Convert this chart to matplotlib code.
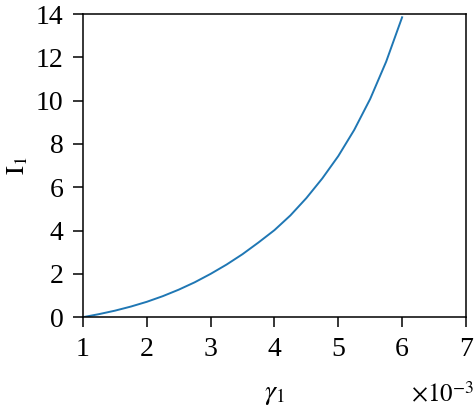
import numpy as np
import matplotlib
matplotlib.use("Agg")
import matplotlib.pyplot as plt

plt.rcParams['font.family'] = 'serif'
plt.rcParams['font.serif'] = ['Liberation Serif', 'DejaVu Serif']
plt.rcParams['mathtext.fontset'] = 'stix'

# values (gamma_1 in units of 1e-3)
gamma1 = [1.0, 1.25, 1.5, 1.75, 2.0, 2.25, 2.5, 2.75, 3.0, 3.25, 3.5,
          3.75, 4.0, 4.25, 4.5, 4.75, 5.0, 5.25, 5.5, 5.75, 6.0]
I1 = [0.0, 0.14, 0.30, 0.49, 0.71, 0.97, 1.27, 1.61, 2.00, 2.43, 2.91,
      3.45, 4.02, 4.70, 5.50, 6.41, 7.44, 8.65, 10.08, 11.80, 13.85]
xticks = [1, 2, 3, 4, 5, 6, 7]
yticks = [0, 2, 4, 6, 8, 10, 12, 14]

fig = plt.figure(figsize=(4.74, 4.13), dpi=100)
ax = fig.add_axes([0.175, 0.232, 0.808, 0.734])

ax.plot(gamma1, I1, color='#1f77b4', lw=1.4, solid_joinstyle='round')

ax.set_xlim(1, 7)
ax.set_ylim(0, 14)
ax.set_xticks(xticks)
ax.set_yticks(yticks)
ax.tick_params(direction='out', length=7, width=1.1, pad=7, labelsize=20,
               top=False, right=False)
for sp in ax.spines.values():
    sp.set_linewidth(1.1)

ax.set_xlabel(r'$\gamma_1$', fontsize=20, labelpad=15)
ax.set_ylabel(r'$\mathrm{I}_1$', fontsize=19, labelpad=4)
fig.text(0.999, 0.027, r'$\times10^{-3}$', fontsize=18, ha='right', va='baseline')

fig.savefig("out.png", dpi=100)
